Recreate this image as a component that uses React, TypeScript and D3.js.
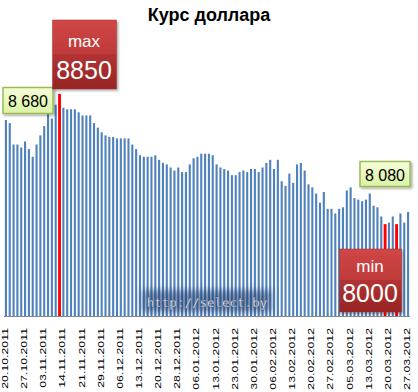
import React from 'react';
import * as d3 from 'd3';

// daily USD rate, 20.10.2011 .. 27.03.2012
const rates = [
  8680, 8660, 8520, 8520, 8500, 8540, 8490, 8440, 8520, 8580,
  8640, 8720, 8690, 8780, 8850, 8760, 8750, 8750, 8750, 8730,
  8710, 8710, 8710, 8660, 8630, 8600, 8580, 8570, 8570, 8560,
  8560, 8560, 8560, 8520, 8490, 8450, 8440, 8440, 8440, 8450,
  8420, 8400, 8390, 8370, 8350, 8370, 8340, 8340, 8390, 8430,
  8440, 8460, 8460, 8460, 8450, 8390, 8370, 8360, 8350, 8320,
  8320, 8340, 8350, 8340, 8360, 8360, 8340, 8370, 8400, 8420,
  8360, 8420, 8280, 8250, 8330, 8270, 8390, 8400, 8350, 8260,
  8240, 8200, 8140, 8210, 8100, 8100, 8070, 8100, 8110, 8220,
  8240, 8170, 8160, 8150, 8160, 8200, 8120, 8110, 8050, 8000,
  8010, 8050, 8000, 8070, 8010, 8080,
];

// every fifth day gets a label
const tickLabels = [
  '20.10.2011', '27.10.2011', '03.11.2011', '14.11.2011', '21.11.2011',
  '29.11.2011', '06.12.2011', '13.12.2011', '20.12.2011', '28.12.2011',
  '06.01.2012', '13.01.2012', '23.01.2012', '30.01.2012', '06.02.2012',
  '13.02.2012', '20.02.2012', '27.02.2012', '05.03.2012', '13.03.2012',
  '20.03.2012', '27.03.2012',
];

const days = d3.range(rates.length);
const labelStep = 5;

const W = 418;
const H = 392;
const baseY = 316;

const App: React.FC = () => {
  const x = d3.scaleBand<number>()
    .domain(days)
    .range([4, 410])
    .paddingInner(0.45)
    .paddingOuter(0.225);

  const y = d3.scaleLinear()
    .domain([7400, 8850])
    .range([baseY, 94]);

  const maxV = d3.max(rates) || 0;
  const minV = d3.min(rates) || 0;
  const step = x.step();

  const firstVal = rates[0];
  const lastVal = rates[rates.length - 1];
  const fmt = (v: number) => String(v).replace(/(\d)(\d{3})$/, '$1 $2');

  return (
    <svg width={W} height={H} style={{ position: 'absolute', left: 0, top: 0, background: '#fff' }}
      fontFamily="'Liberation Sans', Arial, sans-serif">
      <defs>
        <linearGradient id="redBox" x1="0" y1="0" x2="0" y2="1">
          <stop offset="0" stopColor="#d04646" />
          <stop offset="0.5" stopColor="#bf3a3a" />
          <stop offset="0.5" stopColor="#b23333" />
          <stop offset="1" stopColor="#962424" />
        </linearGradient>
        <linearGradient id="greenBox" x1="0" y1="0" x2="0" y2="1">
          <stop offset="0" stopColor="#f6fdd8" />
          <stop offset="1" stopColor="#d9f2a4" />
        </linearGradient>
        <filter id="shadow" x="-20%" y="-20%" width="150%" height="150%">
          <feDropShadow dx="1.5" dy="1.5" stdDeviation="1.2" floodColor="#000" floodOpacity="0.35" />
        </filter>
        <filter id="glow" x="-20%" y="-60%" width="140%" height="220%">
          <feGaussianBlur stdDeviation="3" />
        </filter>
      </defs>

      <text x={209} y={21} textAnchor="middle" fontSize={18} fontWeight="bold">Курс доллара</text>

      {days.map(d => {
        const v = rates[d];
        const hl = v === maxV || v === minV;
        const w = hl ? step * 0.75 : x.bandwidth();
        const cx = (x(d) || 0) + x.bandwidth() / 2;
        return (
          <rect key={d} x={cx - w / 2} y={y(v)} width={w} height={baseY - y(v)}
            fill={hl ? '#ff0000' : '#4f81bd'} />
        );
      })}

      <line x1={4} x2={410} y1={baseY + 0.5} y2={baseY + 0.5} stroke="#868686" strokeWidth={1} />

      {tickLabels.map((t, i) => {
        const d = days[i * labelStep];
        const cx = (x(d) || 0) + x.bandwidth() / 2 - 1;
        return (
          <text key={t} transform={`translate(${cx},328) rotate(-90) scale(1.45,1)`}
            textAnchor="end" dy="0.35em" fontSize={8.5} fill="#000">{t}</text>
        );
      })}

      {/* watermark */}
      <rect x={142} y={290} width={130} height={22} fill="#1f3a6a" opacity={0.55} filter="url(#glow)" />
      <text x={207} y={307} textAnchor="middle" fontSize={12.5} fontFamily="'DejaVu Sans Mono', monospace"
        fill="#fff" stroke="#1f3a6a" strokeWidth={0.3}>http://select.by</text>

      {/* first / last value labels */}
      <g filter="url(#shadow)">
        <rect x={3} y={87.5} width={50} height={26} fill="url(#greenBox)" stroke="#9bbb59" strokeWidth={1.5} />
        <rect x={360} y={161.5} width={50} height={25} fill="url(#greenBox)" stroke="#9bbb59" strokeWidth={1.5} />
      </g>
      <text x={28} y={106.5} textAnchor="middle" fontSize={16}>{fmt(firstVal)}</text>
      <text x={385} y={180.5} textAnchor="middle" fontSize={16}>{fmt(lastVal)}</text>

      {/* max / min boxes */}
      <g filter="url(#shadow)">
        <rect x={52.5} y={20} width={64} height={69} fill="url(#redBox)" stroke="#a83030" strokeWidth={0.5} />
        <rect x={339.5} y={249} width={62} height={63} fill="url(#redBox)" stroke="#a83030" strokeWidth={0.5} />
      </g>
      <text x={84} y={47} textAnchor="middle" fontSize={17} fill="#fff">max</text>
      <text x={84} y={79} textAnchor="middle" fontSize={25} fill="#fff">{maxV}</text>
      <text x={370} y={272} textAnchor="middle" fontSize={17} fill="#fff">min</text>
      <text x={370} y={302} textAnchor="middle" fontSize={25} fill="#fff">{minV}</text>
    </svg>
  );
};

export default App;
